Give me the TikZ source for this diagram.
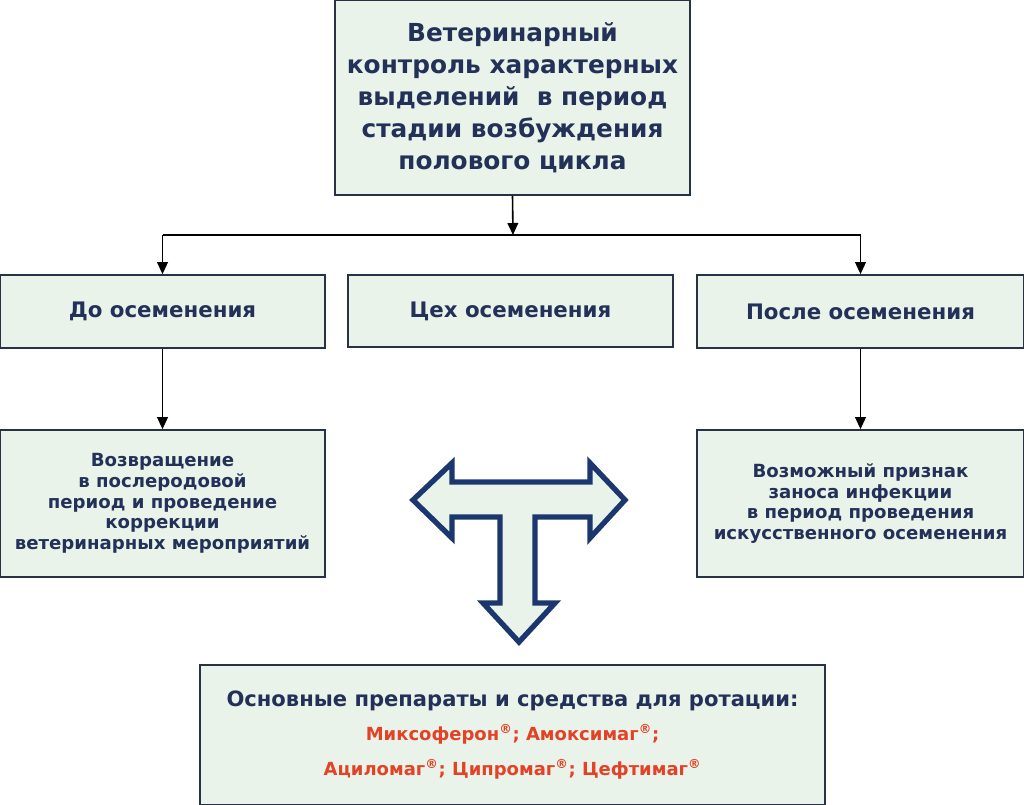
\documentclass[tikz,border=0pt]{standalone}
\usepackage{fontspec}
\setmainfont{DejaVu Sans}
\usetikzlibrary{positioning,arrows.meta}
\definecolor{boxFill}{RGB}{234,243,234}
\definecolor{boxLine}{RGB}{40,50,70}
\definecolor{textBlue}{RGB}{35,48,88}
\definecolor{arrowBlue}{RGB}{28,55,110}
\definecolor{drugRed}{RGB}{226,66,38}
\tikzset{
    block/.style={draw=boxLine, line width=1.2pt, fill=boxFill, text=textBlue,
        font=\bfseries, align=center, inner sep=0pt},
    link/.style={-{Triangle[length=9pt,width=8pt]}, line width=1.2pt, black}
}
\begin{document}
\begin{tikzpicture}[x=0.75pt, y=-0.75pt]
            \useasboundingbox (0,0) rectangle (1024,805);
            \node[block, minimum width=355*0.75pt, minimum height=195*0.75pt, font=\fontsize{18.6}{24}\bfseries]
                (top) at (512.5,97.5) {Ветеринарный\\контроль характерных\\выделений \ в период\\стадии возбуждения\\полового цикла};
            \node[block, minimum width=325*0.75pt, minimum height=73*0.75pt, font=\fontsize{16}{19}\bfseries]
                (before) at (162.5,311.5) {До осеменения};
            \node[block, minimum width=325*0.75pt, minimum height=72*0.75pt, font=\fontsize{16}{19}\bfseries]
                (shop) at (510.5,311) {Цех осеменения};
            \node[block, minimum width=327*0.75pt, minimum height=73*0.75pt, font=\fontsize{16}{19}\bfseries]
                (after) at (860.5,311.5) {После осеменения};
            \node[block, minimum width=325*0.75pt, minimum height=147*0.75pt, font=\fontsize{13.6}{15.5}\bfseries]
                (return) at (162.5,503.5) {Возвращение\\в послеродовой\\период и проведение\\коррекции\\ветеринарных мероприятий};
            \node[block, minimum width=327*0.75pt, minimum height=147*0.75pt, font=\fontsize{13.6}{15.5}\bfseries]
                (sign) at (860.5,503.5) {Возможный признак\\заноса инфекции\\в период проведения\\искусственного осеменения};
            \node[block, minimum width=625*0.75pt, minimum height=140*0.75pt, font=\fontsize{15.8}{26}\bfseries]
                (drugs) at (512.5,735) {Основные препараты и средства для ротации:\\
                {\color{drugRed}\fontsize{13.5}{26}\selectfont Миксоферон\textsuperscript{®}; Амоксимаг\textsuperscript{®};}\\
                {\color{drugRed}\fontsize{13.5}{26}\selectfont Ациломаг\textsuperscript{®}; Ципромаг\textsuperscript{®}; Цефтимаг\textsuperscript{®}}};

            % Branching connectors
            \coordinate (split) at (513,235);
            \draw[link] (top.south) -- (split);
            \draw[line width=1.2pt] (before.north |- split) -- (after.north |- split);
            \draw[link] (before.north |- split) -- (before.north);
            \draw[link] (after.north |- split) -- (after.north);
            \draw[link] (before.south) -- (return.north);
            \draw[link] (after.south) -- (sign.north);

            % T arrow
            \draw[draw=arrowBlue, fill=boxFill, line width=4pt, line join=miter]
                (413,500) -- (452,463) -- (452,482) -- (590,482) -- (590,463) -- (625,500)
                -- (590,538) -- (590,517) -- (535,517) -- (535,603) -- (555,603) -- (519,642)
                -- (483,603) -- (500,603) -- (500,517) -- (452,517) -- (452,538) -- cycle;
        \end{tikzpicture}
\end{document}
